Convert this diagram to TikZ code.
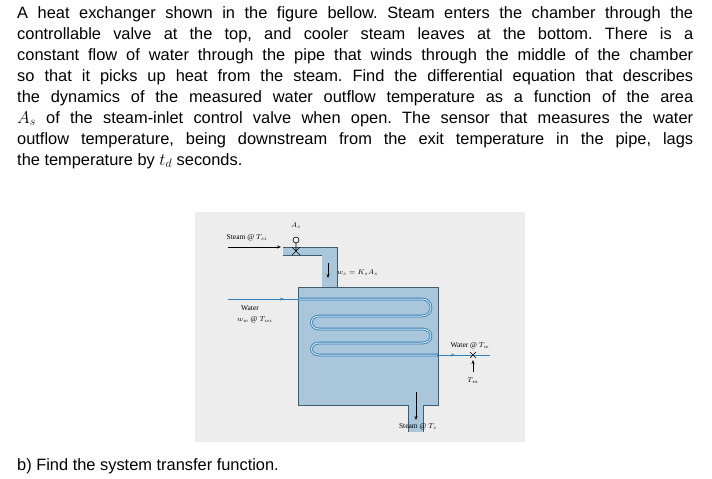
\documentclass[tikz,border=0pt]{standalone}
\usepackage{fontspec}
\setmainfont{Liberation Sans}
\newfontfamily\serf{Liberation Serif}
\usetikzlibrary{arrows.meta}
\frenchspacing
\begin{document}
\begin{tikzpicture}[x=1pt,y=-1pt,
  line/.style={anchor=west,inner sep=0pt,font=\fontsize{16.4}{18}\selectfont},
  lab/.style={inner sep=0pt,font=\serf\fontsize{7.5}{8}\selectfont},
  pipe/.style={fill=pipeblue,draw=pipeedge,line width=0.6pt},
  arr/.style={-{Stealth[length=4pt]},line width=0.6pt}]
\definecolor{pipeblue}{HTML}{A9C6DA}
\definecolor{pipeedge}{HTML}{3E5D72}
\definecolor{coil}{HTML}{2F7FB8}
\useasboundingbox (0,0) rectangle (712,479);
\fill[white] (0,0) rectangle (712,479);
% text
\node[line] (l1) at (17,14) {\makebox[676pt][s]{A heat exchanger shown in the figure bellow. Steam enters the chamber through the}};
\node[line] (l2) at (17,35) {\makebox[676pt][s]{controllable valve at the top, and cooler steam leaves at the bottom. There is a}};
\node[line] (l3) at (17,56) {\makebox[676pt][s]{constant flow of water through the pipe that winds through the middle of the chamber}};
\node[line] (l4) at (17,77) {\makebox[676pt][s]{so that it picks up heat from the steam. Find the differential equation that describes}};
\node[line] (l5) at (17,98) {\makebox[676pt][s]{the dynamics of the measured water outflow temperature as a function of the area}};
\node[line] (l6) at (17,119) {\makebox[676pt][s]{$A_s$ of the steam-inlet control valve when open. The sensor that measures the water}};
\node[line] (l7) at (17,140) {\makebox[676pt][s]{outflow temperature, being downstream from the exit temperature in the pipe, lags}};
\node[line] (l8) at (17,161) {the temperature by $t_d$ seconds.};
\node[line] (b) at (17,466) {b) Find the system transfer function.};
% figure background
\fill[black!7] (195,212) rectangle (525,442);
% pipes and chamber
\fill[pipeblue] (283,247) rectangle (337,255);
\draw[pipeedge,line width=0.6pt] (283,247) -- (337,247) -- (337,287);
\draw[pipeedge,line width=0.6pt] (283,255) -- (322,255) -- (322,287);
\fill[pipeblue] (322,254) rectangle (337,288);
\draw[pipe] (298,287) rectangle (438,405);
\fill[pipeblue] (408,404) rectangle (423,432);
\draw[pipeedge,line width=0.6pt] (408,405) -- (408,432) (423,405) -- (423,432);
% coil
\def\coilpath{ -- (422,299) .. controls (434,299) and (434,316) .. (422,316)
  -- (319,316) .. controls (309,316) and (309,329) .. (319,329) -- (422,329)
  .. controls (434,329) and (434,343) .. (422,343) -- (319,343)
  .. controls (309,343) and (309,355) .. (319,355)}
\draw[coil,line width=1pt] (228,299) -- (299,299) (437,355) -- (490,355);
\draw[coil,line width=2.6pt,line join=round] (298,299) \coilpath -- (438,355);
\draw[pipeblue!50!white,line width=1pt,line join=round] (299,299) \coilpath -- (437,355);
\coordinate (win) at (228,299);
\coordinate (winend) at (284,299);
\coordinate (wout1) at (440,355);
\coordinate (wout2) at (455,355);
\draw[arr,draw=coil,fill=coil] (win) -- (winend);
\draw[arr,draw=coil,fill=coil] (wout1) -- (wout2);
% valve
\coordinate (v) at (296,251);
\draw[line width=0.6pt] (v) -- ++(0,-8) (296,240) circle[radius=3] (292,247) -- (300,255) (292,255) -- (300,247);
\node[lab] (as) at (296,226) {$A_s$};
% steam in
\coordinate (sin) at (228,247);
\coordinate (sinend) at (281,247);
\draw[arr] (sin) -- (sinend);
\node[lab] (steamin) at (247,238) {Steam @ $T_{si}$};
\draw[arr] (328,263) -- (328,278);
\node[lab,anchor=west] (ws) at (337,273) {$w_s=K_sA_s$};
\node[lab] (water) at (250,308) {Water};
\node[lab] (ww) at (255,320) {$w_w$ @ $T_{wi}$};
\node[lab] (wout) at (470,346) {Water @ $T_w$};
\draw[line width=0.5pt] (470,352) -- (476,358) (470,358) -- (476,352);
\draw[arr] (473,372) -- (473,360);
\node[lab] (tm) at (473,381) {$T_m$};
\draw[arr] (416,392) -- (416,420);
\node[lab] (sout) at (418,427) {Steam @ $T_s$};
\end{tikzpicture}
\end{document}
